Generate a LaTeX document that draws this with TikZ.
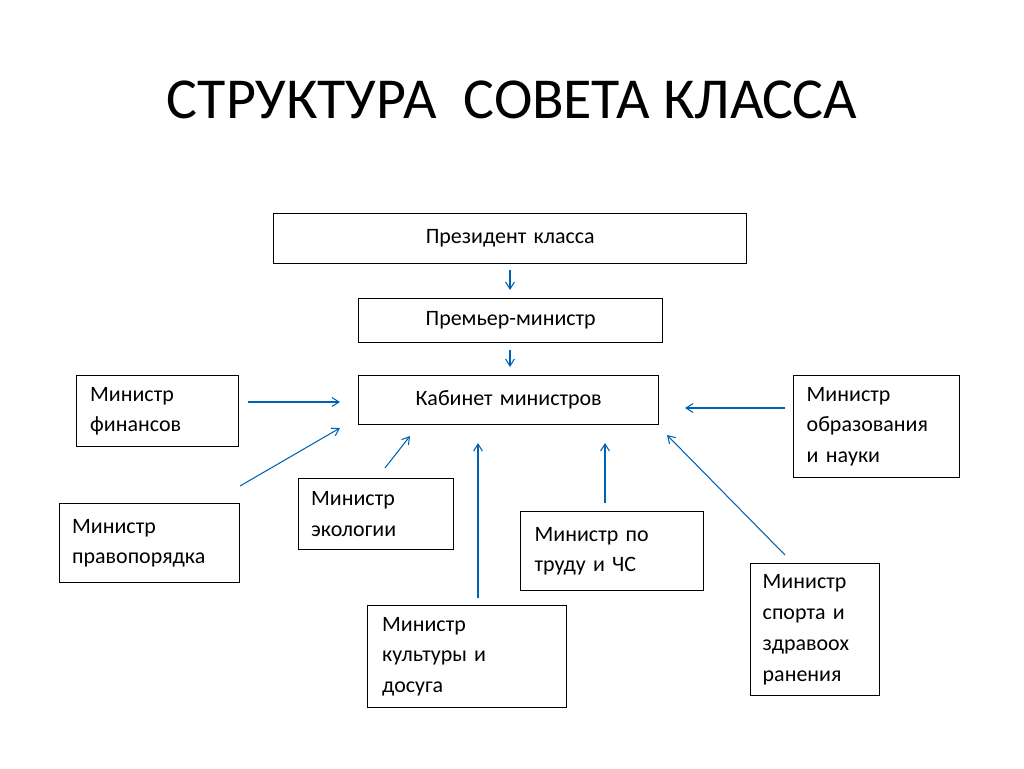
\documentclass[tikz,border=0pt]{standalone}
\usepackage{fontspec}
\setmainfont{Carlito}
\usetikzlibrary{arrows.meta}
\tikzset{
  box/.style={draw, line width=0.8pt, anchor=north west, inner xsep=0.24cm, align=left,
    font=\fontsize{12.5}{17.5}\selectfont},
  cbox/.style={box, align=center},
  link/.style={draw=blue!45!cyan!70!black, line width=0.6pt, -{Straight Barb[length=4pt,width=5pt]}}
}
\begin{document}
\begin{tikzpicture}[x=0.02cm,y=-0.02cm]
  \useasboundingbox (0,0) rectangle (1024,768);
  \node (title) at (512,100) {\fontsize{33}{38}\selectfont СТРУКТУРА\ \ СОВЕТА КЛАССА};

  \node [cbox, minimum width=9.46cm, minimum height=1cm, text width=8.9cm] at (273,213) (pres) {Президент класса};
  \node [cbox, minimum width=6.08cm, minimum height=0.88cm, text width=5.5cm] at (358,298) (prem) {Премьер-министр};
  \node [cbox, minimum width=6cm, minimum height=0.98cm, text width=5.5cm] at (358,375) (cab) {Кабинет министров};

  \node [box, minimum width=3.24cm, minimum height=1.42cm, text width=2.7cm] at (76,375) (fin) {Министр\\финансов};
  \node [box, minimum width=3.32cm, minimum height=2.04cm, text width=2.8cm] at (793,375) (edu) {Министр\\образования\\и науки};
  \node [box, minimum width=3.6cm, minimum height=1.58cm, text width=3.1cm] at (59,503) (law) {Министр\\правопорядка};
  \node [box, minimum width=3.1cm, minimum height=1.42cm, text width=2.6cm] at (298,478) (eco) {Министр\\экологии};
  \node [box, minimum width=3.66cm, minimum height=1.58cm, text width=3.1cm] at (520,511) (work) {Министр по\\труду и ЧС};
  \node [box, minimum width=3.98cm, minimum height=2.04cm, text width=3.4cm] at (367,605) (cult) {Министр\\культуры и\\досуга};
  \node [box, minimum width=2.58cm, minimum height=2.64cm, text width=2.1cm] at (750,563) (sport) {Министр\\спорта и\\здравоох\\ранения};

  % arrow ends
  \coordinate (a1) at (510,270); \coordinate (b1) at (510,290);
  \coordinate (a2) at (510,350); \coordinate (b2) at (510,367);
  \coordinate (a3) at (248,402); \coordinate (b3) at (340,402);
  \coordinate (a4) at (785,408); \coordinate (b4) at (685,408);
  \coordinate (a5) at (240,486); \coordinate (b5) at (340,428);
  \coordinate (a6) at (385,468); \coordinate (b6) at (410,436);
  \coordinate (a7) at (478,598); \coordinate (b7) at (478,443);
  \coordinate (a8) at (605,503); \coordinate (b8) at (605,443);
  \coordinate (a9) at (785,555); \coordinate (b9) at (667,435);

  \foreach \i in {1,...,9}
    \draw [link] (a\i) -- (b\i);
\end{tikzpicture}
\end{document}
